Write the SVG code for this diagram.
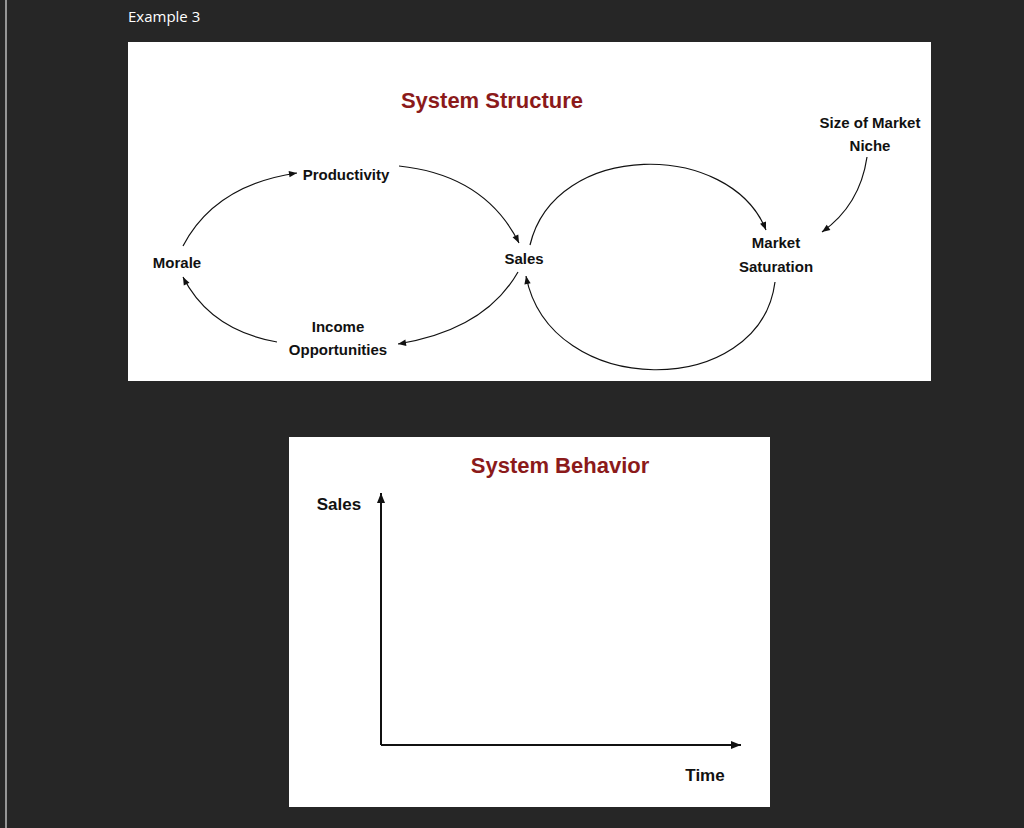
<svg xmlns="http://www.w3.org/2000/svg" width="1024" height="828" viewBox="0 0 1024 828">
<style>
.l{font-family:"Liberation Sans",Arial,sans-serif;font-weight:bold;font-size:15px;fill:#111;text-anchor:middle}
.t{font-family:"Liberation Sans",Arial,sans-serif;font-weight:bold;font-size:22px;fill:#8B1A1A;text-anchor:middle}
.c{fill:none;stroke:#111;stroke-width:1.2}
.a{fill:none;stroke:#111;stroke-width:2}
</style>
<defs>
<marker id="ah" viewBox="0 0 10 10" refX="10" refY="5" markerWidth="10" markerHeight="8" markerUnits="userSpaceOnUse" orient="auto"><path d="M0,1 L10,5 L0,9 z" fill="#111"/></marker>
<marker id="ah2" viewBox="0 0 10 10" refX="10" refY="5" markerWidth="12" markerHeight="10" markerUnits="userSpaceOnUse" orient="auto"><path d="M0,1 L10,5 L0,9 z" fill="#111"/></marker>
</defs>
<rect width="1024" height="828" fill="#262626"/>
<line x1="6" y1="0" x2="6" y2="828" stroke="#bbb" stroke-width="1.5"/>
<text x="128" y="22" font-family="Open Sans,Liberation Sans,sans-serif" font-size="15" fill="#fff">Example 3</text>
<rect x="128" y="42" width="803" height="339" fill="#fff"/>
<rect x="289" y="437" width="481" height="370" fill="#fff"/>
<text class="t" x="492" y="108">System Structure</text>
<text class="t" x="560" y="473">System Behavior</text>
<g id="connectors">
<path class="c" marker-end="url(#ah)" d="M183,246 Q215,185 297,173"/>
<path class="c" marker-end="url(#ah)" d="M399,166 Q485,175 519,243"/>
<path class="c" marker-end="url(#ah)" d="M518,272 Q485,330 398,344"/>
<path class="c" marker-end="url(#ah)" d="M277,342 Q210,330 183,277"/>
<path class="c" marker-end="url(#ah)" d="M530,245 C555,140 730,140 766,230"/>
<path class="c" marker-end="url(#ah)" d="M775,282 C760,400 550,400 526,276"/>
<path class="c" marker-end="url(#ah)" d="M867,157 Q860,205 822,232"/>
<path class="a" marker-end="url(#ah2)" d="M381,745 L381,493"/>
<path class="a" marker-end="url(#ah2)" d="M381,745 L741,745"/>
</g>
<g id="productivity"><text class="l" x="346" y="180">Productivity</text></g>
<g id="morale"><text class="l" x="177" y="268">Morale</text></g>
<g id="sales"><text class="l" x="524" y="264">Sales</text></g>
<g id="income"><text class="l" x="338" y="332">Income</text><text class="l" x="338" y="355">Opportunities</text></g>
<g id="market"><text class="l" x="776" y="248">Market</text><text class="l" x="776" y="272">Saturation</text></g>
<g id="niche"><text class="l" x="870" y="128">Size of Market</text><text class="l" x="870" y="151">Niche</text></g>
<g id="axis-labels"><text class="l" x="339" y="510" style="font-size:17px">Sales</text><text class="l" x="705" y="781" style="font-size:17px">Time</text></g>
</svg>
